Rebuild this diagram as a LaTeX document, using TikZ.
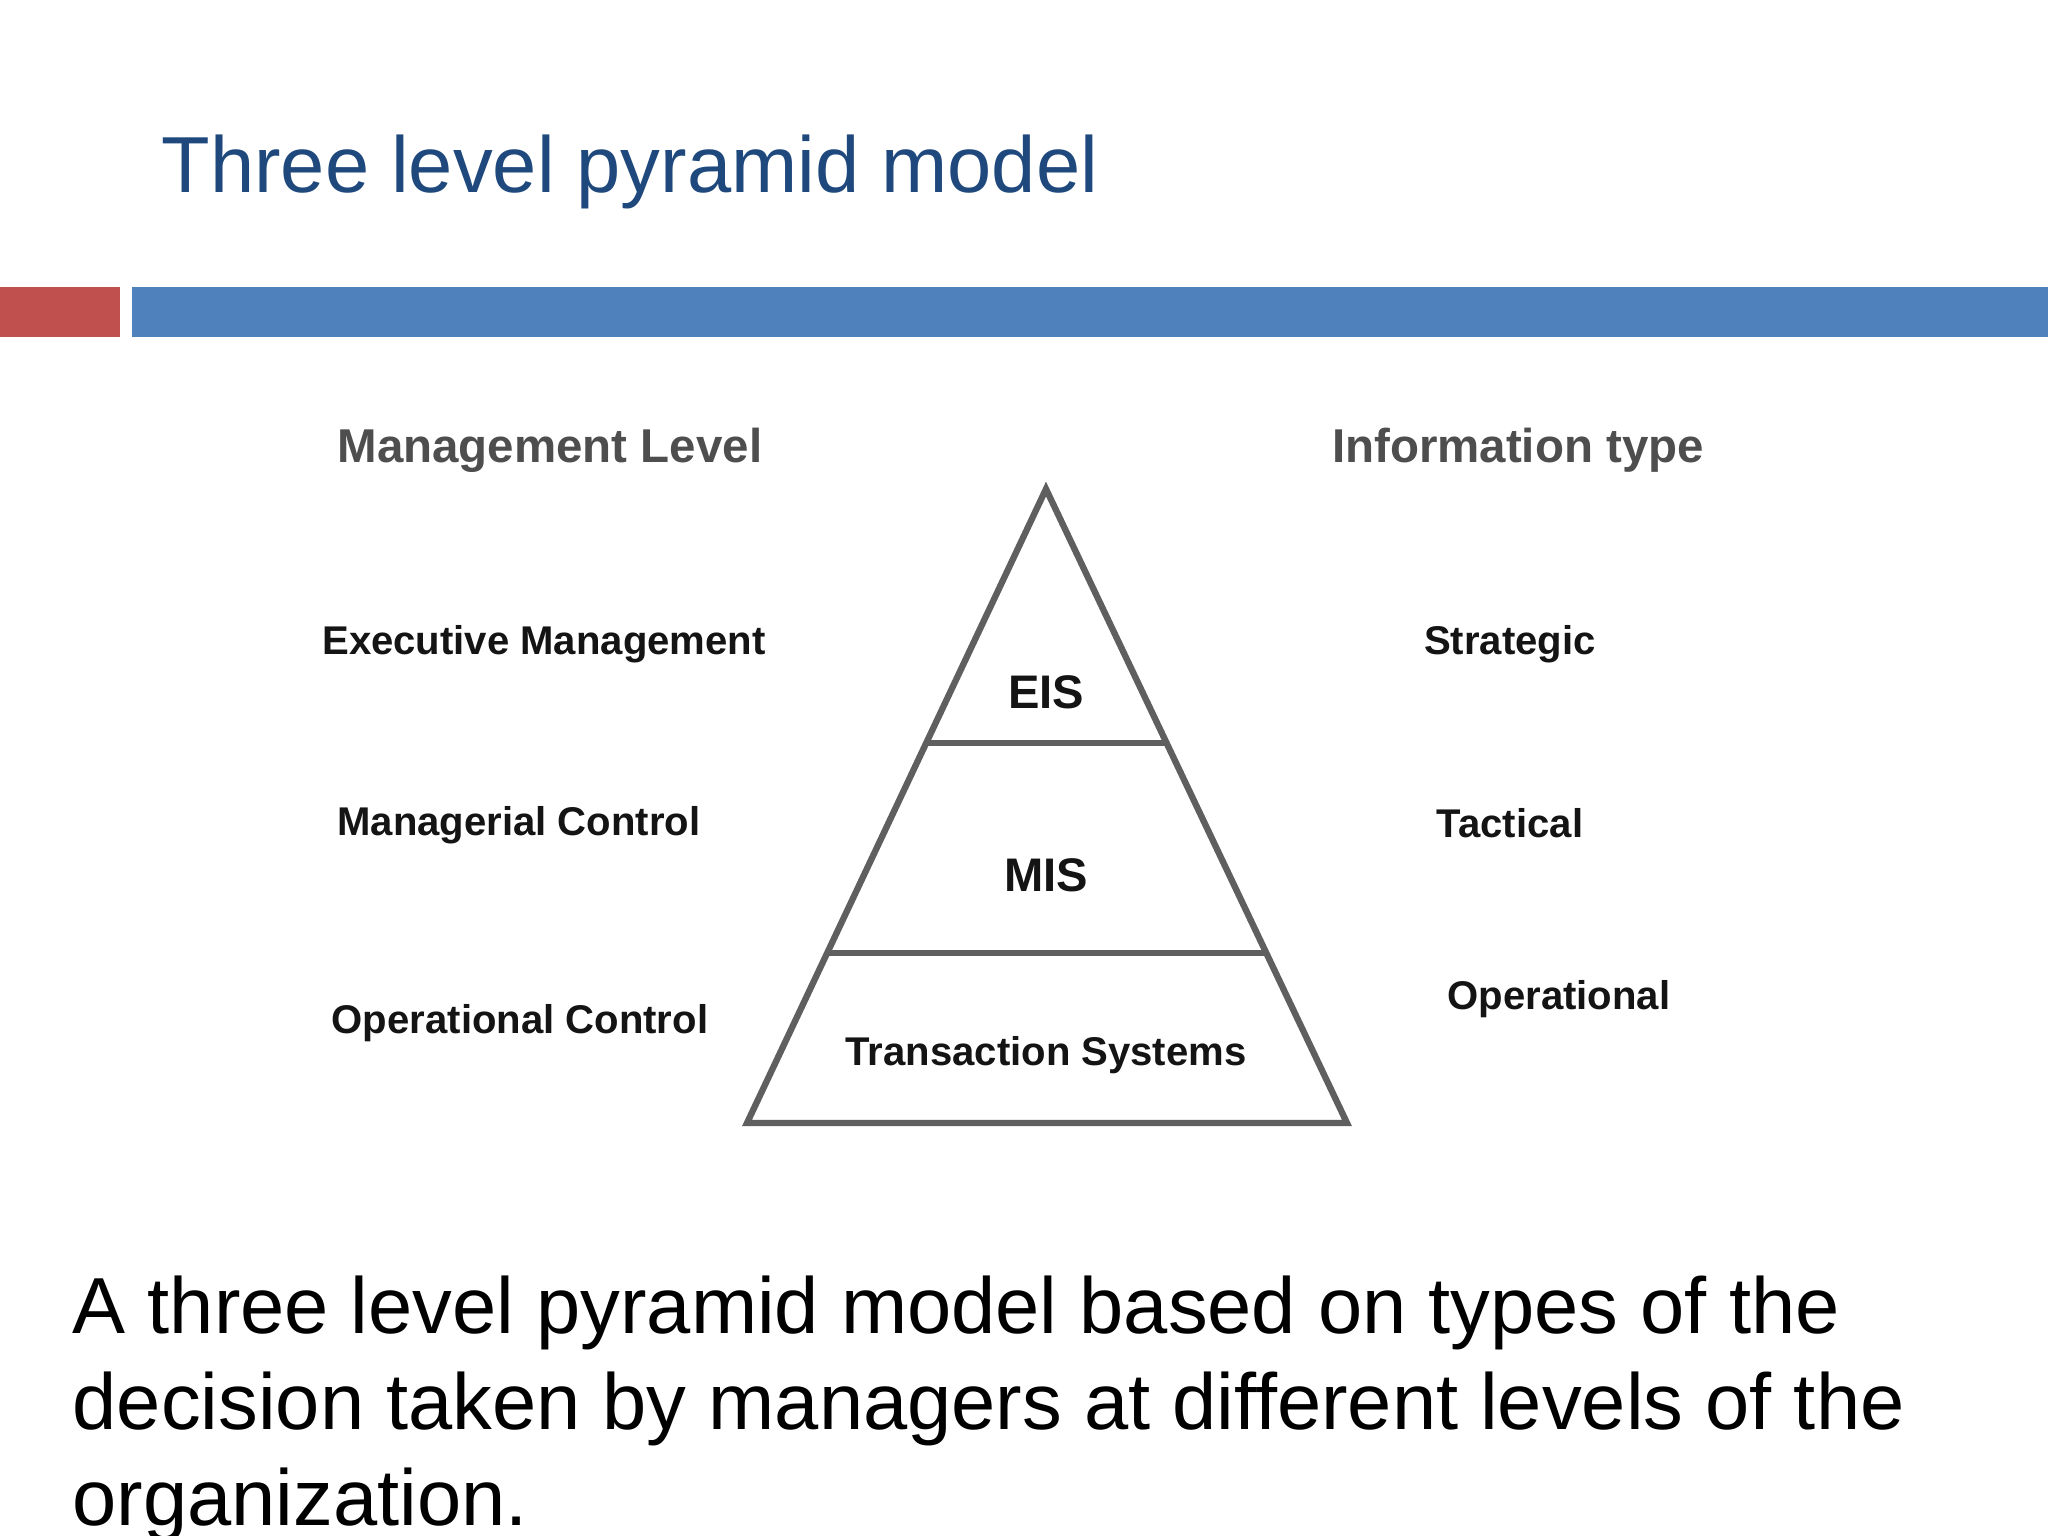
\documentclass[tikz,border=0pt]{standalone}
\usepackage{fontspec}
\setmainfont{Liberation Sans}
\usetikzlibrary{positioning, calc}

\definecolor{titleblue}{RGB}{31,73,125}
\definecolor{barred}{RGB}{192,80,77}
\definecolor{barblue}{RGB}{79,129,189}
\definecolor{headgray}{RGB}{78,78,78}
\definecolor{pyrgray}{RGB}{95,95,95}

\begin{document}
\begin{tikzpicture}[
    x=0.01cm, y=-0.01cm,
    % Text styles
    slidetitle/.style={font=\fontsize{22.6}{27}\selectfont, text=titleblue, inner sep=0pt, anchor=base west},
    colhead/.style={font=\fontsize{13.5}{16}\selectfont\bfseries, text=headgray, inner sep=0pt, anchor=base},
    lvl/.style={font=\fontsize{11.4}{14}\selectfont\bfseries, text=black!92, inner sep=0pt, anchor=base},
    tier/.style={font=\fontsize{13.4}{16}\selectfont\bfseries, text=black!92, inner sep=0pt, anchor=base},
    body/.style={font=\fontsize{22.6}{27.3}\selectfont, text=black, inner sep=0pt, align=left, anchor=base west},
    % Shapes
    pyr/.style={draw=pyrgray, line width=1.8pt, line join=miter}
]
\useasboundingbox (0,0) rectangle (2048,1536);
\clip (0,0) rectangle (2048,1536);
\fill[white] (0,0) rectangle (2048,1536);

% ===============================
% Title and header bars
% ===============================
\node[slidetitle] (title) at (161,192) {Three level pyramid model};
\fill[barred] (0,287) rectangle (120,337);
\fill[barblue] (132,287) rectangle (2048,337);

% ===============================
% Pyramid
% ===============================
\coordinate (apex) at (1046,489);
\coordinate (baseL) at (747,1123);
\coordinate (baseR) at (1347,1123);
\coordinate (cutL1) at ($(apex)!0.4006!(baseL)$);
\coordinate (cutR1) at ($(apex)!0.4006!(baseR)$);
\coordinate (cutL2) at ($(apex)!0.7319!(baseL)$);
\coordinate (cutR2) at ($(apex)!0.7319!(baseR)$);

\draw[pyr] (apex) -- (baseL) -- (baseR) -- cycle;
\draw[pyr] (cutL1) -- (cutR1);
\draw[pyr] (cutL2) -- (cutR2);

\node[tier] (eis) at (1046,708) {EIS};
\node[tier] (mis) at (1046,891) {MIS};
\node[lvl] (tps) at (1046,1065) {Transaction Systems};

% ===============================
% Column labels
% ===============================
\node[colhead] (mgmthead) at (550,462) {Management Level};
\node[colhead] (infohead) at (1518,462) {Information type};

\node[lvl] (exec) at (544,654) {Executive Management};
\node[lvl] (mgr) at (519,835) {Managerial Control};
\node[lvl] (ops) at (520,1033) {Operational Control};

\node[lvl] (strat) at (1510,654) {Strategic};
\node[lvl] (tact) at (1510,837) {Tactical};
\node[lvl] (oper) at (1559,1009) {Operational};

% ===============================
% Caption text
% ===============================
% base anchor of a multi-line node sits on its last line
\node[body] (caption) at (72,1525) {A three level pyramid model based on types of the\\decision taken by managers at different levels of the\\organization.};
\end{tikzpicture}
\end{document}
